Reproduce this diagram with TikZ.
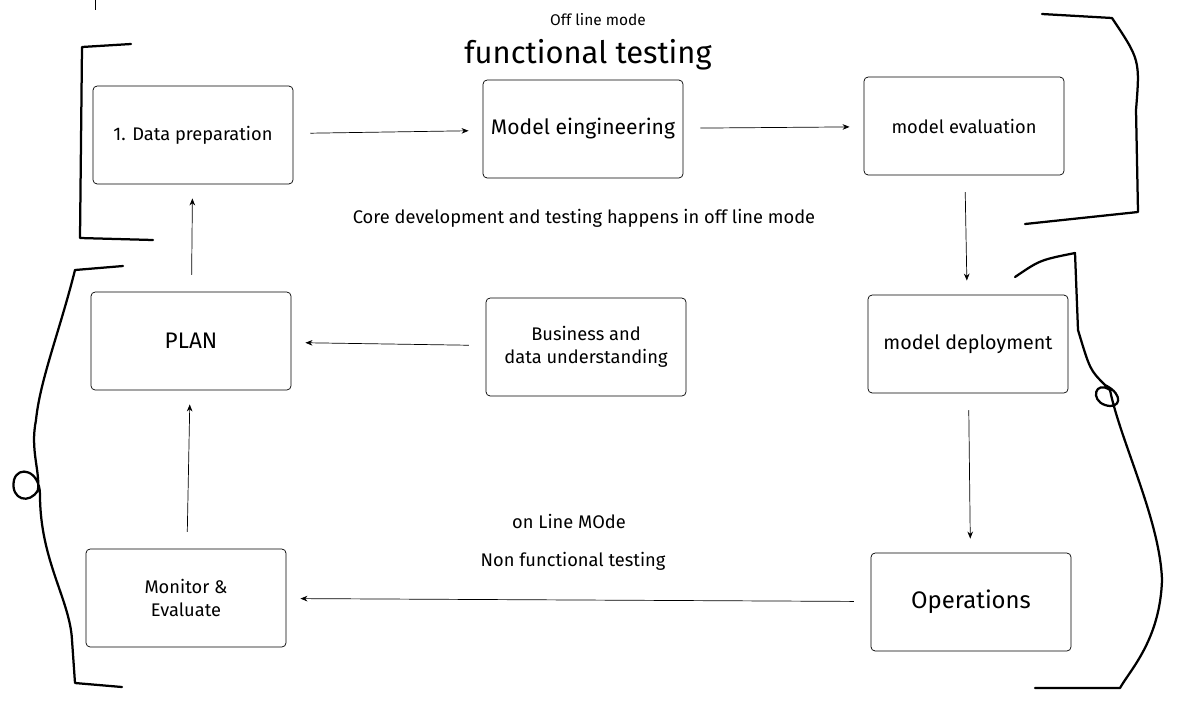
\documentclass[tikz,border=0pt]{standalone}
\usepackage{fontspec}
\setmainfont{Fira Sans}
\usetikzlibrary{arrows.meta,positioning}

\begin{document}
\begin{tikzpicture}[
  x=0.025cm, y=-0.025cm,
  stage/.style={draw, rounded corners=3pt, line width=0.5pt,
               minimum width=5cm, minimum height=2.45cm,
               font=\fontsize{13}{16}\selectfont, align=center},
  arrow/.style={-{Stealth[length=5pt,width=4pt]}, line width=0.5pt,
                shorten <=12pt, shorten >=10pt},
  lbl/.style={font=\fontsize{13}{16}\selectfont},
  brk/.style={line width=1.6pt, line cap=round, line join=round},
]
  \useasboundingbox (0,0) rectangle (1200,705);

  % Off line steps
  \node[stage] (prep) at (193,135) {1. Data preparation};
  \node[stage] (eng) at (583,129) {\fontsize{15}{18}\selectfont Model eingineering};
  \node[stage] (eval) at (964,126) {model evaluation};

  % Middle row
  \node[stage] (plan) at (191,341) {\fontsize{16}{18}\selectfont PLAN};
  \node[stage] (biz) at (586,347) {Business and\\data understanding};
  \node[stage] (deploy) at (968,344) {\fontsize{14}{17}\selectfont model deployment};

  % On line steps
  \node[stage] (mon) at (186,598) {Monitor \&\\Evaluate};
  \node[stage] (ops) at (971,602) {\fontsize{17}{20}\selectfont Operations};

  % Connectors
  \draw[arrow] (prep) -- (eng);
  \draw[arrow] (eng) -- (eval);
  \draw[arrow] (eval) -- (deploy);
  \draw[arrow] (biz) -- (plan);
  \draw[arrow] (deploy) -- (ops);
  \draw[arrow] (ops) -- (mon);
  \draw[arrow] (mon) -- (plan);
  \draw[arrow] (plan) -- (prep);

  % Labels
  \node[lbl, font=\fontsize{11}{14}\selectfont] (off) at (598,20) {Off line mode};
  \node[font=\fontsize{22}{26}\selectfont] (func) at (588,55) {functional testing};
  \node[lbl] (core) at (584,218)
    {Core development and testing happens in off line mode};
  \node[lbl] (online) at (569,521) {on Line MOde};
  \node[lbl] (nonfunc) at (573,561) {Non functional testing};

  % Brackets
  \draw[line width=0.6pt] (95,0) -- (95,10);
  \draw[brk] (131,44) -- (82,47) -- (80,238) -- (153,240);
  \draw[brk] (1042,14) -- (1112,18) .. controls (1140,60) .. (1136,110)
    -- (1138,212) -- (1025,224);
  \draw[brk] (123,266) -- (75,270) .. controls (60,330) and (40,380) .. (36,420)
    .. controls (30,450) and (40,470) .. (38,490)
    .. controls (30,505) and (10,500) .. (14,480)
    .. controls (18,465) and (40,470) .. (40,495)
    .. controls (40,560) and (70,600) .. (72,640)
    -- (75,683) -- (122,687);
  \draw[brk] (1015,277) .. controls (1040,260) .. (1075,253)
    -- (1078,330) .. controls (1090,370) .. (1105,385)
    .. controls (1125,395) and (1120,410) .. (1105,405)
    .. controls (1090,400) and (1095,380) .. (1110,390)
    .. controls (1120,440) and (1160,520) .. (1162,580)
    .. controls (1160,640) and (1130,670) .. (1120,688)
    -- (1035,688);
\end{tikzpicture}
\end{document}
